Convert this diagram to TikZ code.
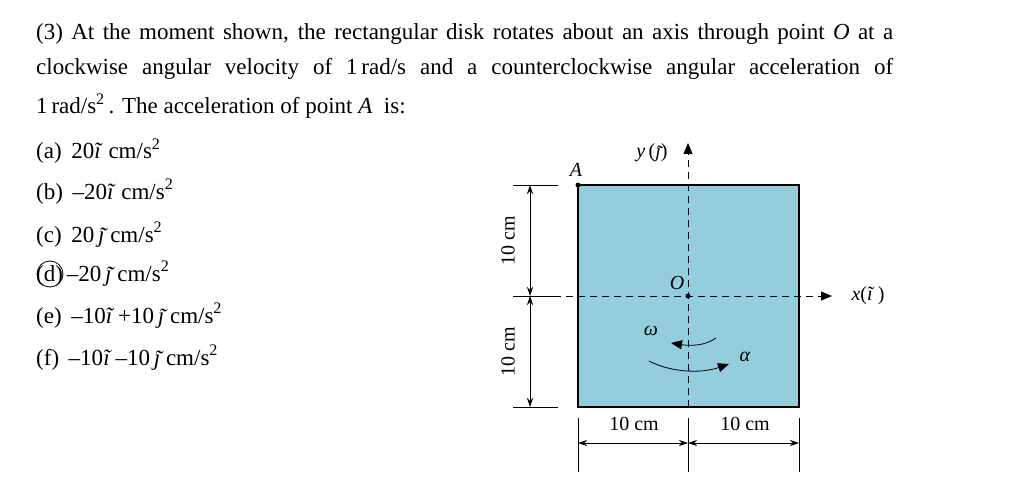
\documentclass[tikz,border=0pt]{standalone}
\usepackage{fontspec}
\setmainfont{Liberation Serif}
\usetikzlibrary{arrows.meta}
\newcommand{\ii}{\textit{ĩ}}
\newcommand{\jj}{\textit{\ooalign{ȷ\cr\hidewidth\kern0.12em\raisebox{-0.08em}{˜}\hidewidth\cr}}}
\begin{document}
\begin{tikzpicture}[x=1pt,y=-1pt,
  line/.style={anchor=base west,inner sep=0pt,font=\fontsize{23}{26}\selectfont},
  opt/.style={anchor=base west,inner sep=0pt,font=\fontsize{23}{26}\selectfont},
  lab/.style={font=\fontsize{20}{22}\selectfont},
  dim/.style={thick,{Stealth[length=9pt,width=6pt]}-{Stealth[length=9pt,width=6pt]}},
  ax/.style={thick,dashed,dash pattern=on 7pt off 5pt},
  tip/.style={-{Triangle[length=11pt,width=9pt]}}]
\useasboundingbox (0,0) rectangle (1024,489);
\node[line] (l1) at (36,40) {\makebox[857pt][s]{(3) At the moment shown, the rectangular disk rotates about an axis through point \textit{O} at a}};
\node[line] (l2) at (36,75) {\makebox[857pt][s]{clockwise angular velocity of 1\,rad/s and a counterclockwise angular acceleration of}};
\node[line] (l3) at (36,114) {1\,rad/s\textsuperscript{2}\,. The acceleration of point \textit{A} \ is:};
\node[opt] (a) at (36,159) {(a)\, 20\ii\ cm/s\textsuperscript{2}};
\node[opt] (b) at (36,199) {(b)\, –20\ii\ cm/s\textsuperscript{2}};
\node[opt] (c) at (36,242) {(c)\, 20\,\jj\ cm/s\textsuperscript{2}};
\node[opt] (d) at (36,281) {(d)\,–20\,\jj\ cm/s\textsuperscript{2}};
\node[opt] (e) at (36,323) {(e)\, –10\ii\,+10\,\jj\ cm/s\textsuperscript{2}};
\node[opt] (f) at (36,365) {(f)\, –10\ii\,–10\,\jj\ cm/s\textsuperscript{2}};
\draw[thick] (50,274) circle (13);
% disk
\draw[very thick,fill={rgb,255:red,148;green,205;blue,220}] (578,185) rectangle (799,407);
\coordinate (Ac) at (578,185);
\fill (Ac) circle (2.5);
\node[lab] (A) at (576,170) {\textit{A}};
\coordinate (O) at (688,296);
\fill (O) circle (2.5);
\node[lab] (Ol) at (677,283) {\textit{O}};
\coordinate (yb) at (688,407); \coordinate (yt) at (688,143);
\draw[ax,tip] (yb) -- (yt);
\coordinate (xl) at (530,296); \coordinate (xr) at (832,296);
\draw[ax,tip] (xl) -- (xr);
\node[lab] (yl) at (652,153) {\textit{y}\,(\jj)};
\node[lab] (xlab) at (868,296) {\textit{x}(\ii\,)};
% dimension lines left
\foreach \yy/\n in {185/t,296/m,407/b}{\draw[thick] (513,\yy) -- (558,\yy); \coordinate (L\n) at (530,\yy);}
\draw[dim] (Lt) -- (Lm);
\draw[dim] (Lm) -- (Lb);
\node[lab,rotate=90] (d1) at (508,241) {10 cm};
\node[lab,rotate=90] (d2) at (508,352) {10 cm};
% bottom
\foreach \xx/\n in {578/l,688/m,799/r}{\draw[thick] (\xx,418) -- (\xx,472); \coordinate (B\n) at (\xx,443);}
\draw[dim] (Bl) -- (Bm);
\draw[dim] (Bm) -- (Br);
\node[lab] (d3) at (634,424) {10 cm};
\node[lab] (d4) at (745,424) {10 cm};
% omega and alpha
\coordinate (w1) at (716,338); \coordinate (w2) at (671,343);
\draw[thick,tip] (w1) .. controls (705,346) and (690,346) .. (w2);
\node[lab] (wl) at (651,331) {\textit{ω}};
\coordinate (a1) at (649,361); \coordinate (a2) at (729,364);
\draw[thick,tip] (a1) .. controls (670,372) and (700,374) .. (a2);
\node[lab] (al) at (745,357) {\textit{α}};
\end{tikzpicture}
\end{document}
